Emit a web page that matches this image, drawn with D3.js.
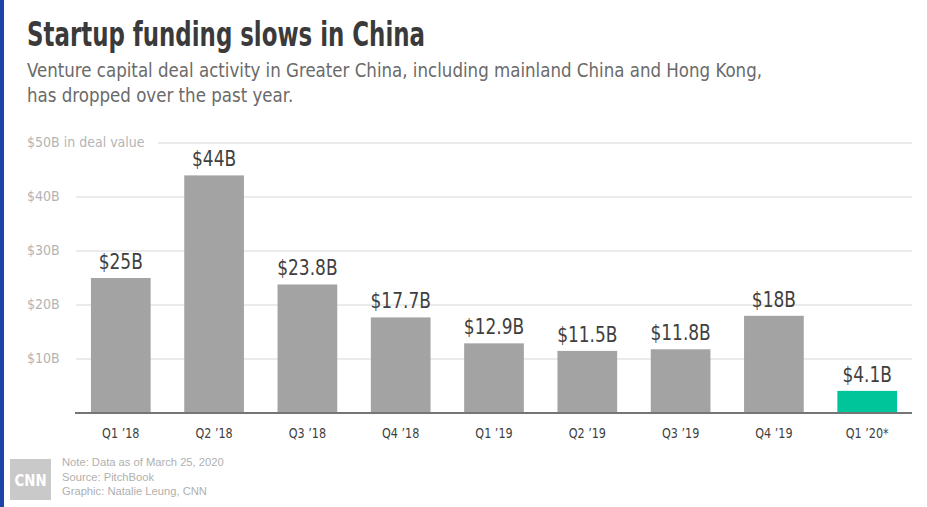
<!DOCTYPE html>
<html>
<head>
<meta charset="utf-8">
<script src="https://cdn.jsdelivr.net/npm/d3@7"></script>
<style>
  html, body { margin: 0; padding: 0; background: #ffffff; }
  svg { display: block; }
</style>
</head>
<body>
<svg id="chart" width="927" height="507"></svg>
<script>
const categories = ["Q1 \u201918", "Q2 \u201918", "Q3 \u201918", "Q4 \u201918", "Q1 \u201919", "Q2 \u201919", "Q3 \u201919", "Q4 \u201919", "Q1 \u201920*"];
const values = [25, 44, 23.8, 17.7, 12.9, 11.5, 11.8, 18, 4.1];
const valueLabels = ["$25B", "$44B", "$23.8B", "$17.7B", "$12.9B", "$11.5B", "$11.8B", "$18B", "$4.1B"];
const yTicks = [10, 20, 30, 40, 50];
const yTickLabels = ["$10B", "$20B", "$30B", "$40B", "$50B in deal value"];
const highlight = ["Q1 \u201920*"];

const title = "Startup funding slows in China";
const subtitle = ["Venture capital deal activity in Greater China, including mainland China and Hong Kong,", "has dropped over the past year."];
const notes = ["Note: Data as of March 25, 2020", "Source: PitchBook", "Graphic: Natalie Leung, CNN"];

const condensed = "'DejaVu Sans Condensed', 'Liberation Sans Narrow', 'Roboto', sans-serif";
const svg = d3.select("#chart");

// left blue strip
svg.append("rect").attr("x", 0).attr("y", 0).attr("width", 4).attr("height", 507).attr("fill", "#1a44a6");

// title
svg.append("text").attr("x", 27).attr("y", 46)
  .attr("font-family", condensed).attr("font-weight", "bold").attr("font-size", 33)
  .attr("fill", "#3a3a3a").attr("textLength", 398).attr("lengthAdjust", "spacingAndGlyphs")
  .text(title);

svg.selectAll("text.sub").data(subtitle).join("text").attr("class", "sub")
  .attr("transform", (d, i) => `translate(27,${77 + i * 25}) scale(0.95,1)`)
  .attr("font-family", condensed).attr("font-size", 19.5).attr("fill", "#6a6a6a")
  .text(d => d);

const x = d3.scaleBand().domain(categories).range([76, 912]).paddingInner(0.36).paddingOuter(0.16);
const y = d3.scaleLinear().domain([0, 50]).range([413, 143]);

// gridlines
svg.append("g").selectAll("line").data(yTicks).join("line")
  .attr("x1", d => d === 50 ? 158 : 76).attr("x2", 912)
  .attr("y1", d => y(d)).attr("y2", d => y(d))
  .attr("stroke", "#e4e4e4").attr("stroke-width", 1.5);

svg.append("g").selectAll("text").data(yTicks).join("text")
  .attr("x", 27).attr("y", d => y(d) + 3.5)
  .attr("font-family", condensed).attr("font-size", 14).attr("fill", "#b4b4b4")
  .text((d, i) => yTickLabels[i]);

// bars
svg.append("g").selectAll("rect").data(values).join("rect")
  .attr("x", (d, i) => x(categories[i])).attr("width", x.bandwidth())
  .attr("y", d => y(d)).attr("height", d => y(0) - y(d))
  .attr("fill", (d, i) => highlight.includes(categories[i]) ? "#00c49a" : "#a3a3a3");

// value labels
svg.append("g").selectAll("text").data(values).join("text")
  .attr("transform", (d, i) => `translate(${x(categories[i]) + x.bandwidth() / 2},${y(d) - 9}) scale(0.86,1)`)
  .attr("text-anchor", "middle")
  .attr("font-family", condensed).attr("font-size", 22).attr("fill", "#3f3f3f")
  .text((d, i) => valueLabels[i]);

// baseline
svg.append("line").attr("x1", 75).attr("x2", 912).attr("y1", y(0)).attr("y2", y(0))
  .attr("stroke", "#757575").attr("stroke-width", 2);

// x axis labels
svg.append("g").selectAll("text").data(categories).join("text")
  .attr("transform", d => `translate(${x(d) + x.bandwidth() / 2},438) scale(0.86,1)`)
  .attr("text-anchor", "middle")
  .attr("font-family", condensed).attr("font-size", 14.5).attr("fill", "#3f3f3f")
  .text(d => d);

// footer logo
svg.append("rect").attr("x", 10).attr("y", 459).attr("width", 41).attr("height", 41).attr("fill", "#c9c9c9");
svg.append("text").attr("x", 30.5).attr("y", 486).attr("text-anchor", "middle")
  .attr("font-family", condensed).attr("font-weight", "bold").attr("font-size", 16)
  .attr("fill", "#ffffff").attr("textLength", 32).attr("lengthAdjust", "spacingAndGlyphs")
  .text("CNN");

svg.selectAll("text.note").data(notes).join("text").attr("class", "note")
  .attr("x", 62).attr("y", (d, i) => 466 + i * 14.5)
  .attr("font-family", "'Liberation Sans', Arial, sans-serif").attr("font-size", 11.2).attr("fill", "#b0b0b0")
  .text(d => d);
</script>
</body>
</html>
